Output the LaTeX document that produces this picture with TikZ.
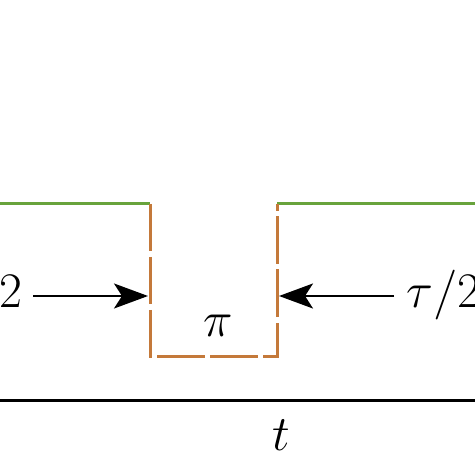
\documentclass[tikz,border=0pt]{standalone}
\usetikzlibrary{arrows.meta}
\definecolor{wellgreen}{RGB}{104,163,60}
\definecolor{wallorange}{RGB}{196,121,58}
\tikzset{
  levelline/.style={draw=wellgreen,line width=1.5pt},
  wallline/.style={draw=wallorange,line width=1.5pt,dash pattern=on 23.75pt off 2.75pt},
  axisline/.style={draw=black,line width=1.35pt},
  pointer/.style={draw=black,line width=1pt,-{Stealth[length=17pt,width=12.5pt,inset=4pt]}},
  lbl/.style={inner sep=0pt,font=\fontsize{23}{25}\selectfont},
}
\begin{document}
\begin{tikzpicture}[x=0.5pt,y=-0.5pt]
\useasboundingbox (0,0) rectangle (474,474);
\coordinate (gl0) at (-5,204);
\coordinate (wl1) at (150,204);
\coordinate (wl2) at (150,356);
\coordinate (wr2) at (277,356);
\coordinate (wr1) at (277,204);
\coordinate (gr0) at (480,204);
\coordinate (ax0) at (-5,400.5);
\coordinate (ax1) at (480,400.5);
\coordinate (tipl) at (148,296);
\coordinate (tipr) at (279,296);
\draw[levelline] (gl0) -- (wl1);
\draw[levelline] (wr1) -- (gr0);
\draw[wallline] (wl1) -- (wl2) -- (wr2) -- (wr1);
\draw[axisline] (ax0) -- (ax1);
\node[lbl,anchor=base east] (taul) at (23,307) {$\tau/2$};
\node[lbl,anchor=base west] (taur) at (406,307) {$\tau/2$};
\node[lbl,anchor=base] (pi) at (218,336) {$\pi$};
\node[inner sep=0pt,font=\fontsize{24}{26}\selectfont,anchor=base] (t) at (281,450) {$t$};
\draw[pointer] ([xshift=5pt]taul.east |- tipl) -- (tipl);
\draw[pointer] ([xshift=-6pt]taur.west |- tipr) -- (tipr);
\end{tikzpicture}
\end{document}
